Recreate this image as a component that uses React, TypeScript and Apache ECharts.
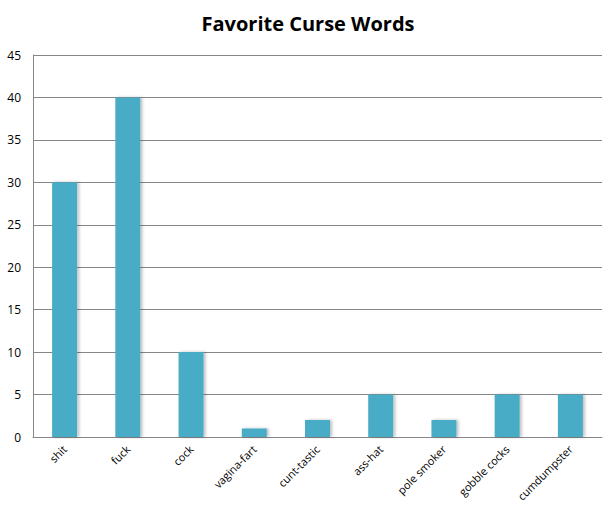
import { useEffect, useRef } from 'react';
import * as echarts from 'echarts';

const categories = [
  'shit',
  'fuck',
  'cock',
  'vagina-fart',
  'cunt-tastic',
  'ass-hat',
  'pole smoker',
  'gobble cocks',
  'cumdumpster',
];
const values = [30, 40, 10, 1, 2, 5, 2, 5, 5];

const FONT = '"Open Sans", "Liberation Sans", sans-serif';

export default function App() {
  const chartRef = useRef<HTMLDivElement>(null);

  useEffect(() => {
    document.body.style.margin = '0';
    if (!chartRef.current) return;
    const chart = echarts.init(chartRef.current, undefined, { renderer: 'svg' });

    const option: echarts.EChartsOption = {
      animation: false,
      backgroundColor: '#ffffff',
      title: {
        text: 'Favorite Curse Words',
        left: 'center',
        top: 8,
        textStyle: {
          fontFamily: FONT,
          fontSize: 20,
          fontWeight: 'bold',
          color: '#000000',
        },
      },
      grid: {
        left: 33,
        right: 14,
        top: 55,
        bottom: 82,
        containLabel: false,
      },
      xAxis: {
        type: 'category',
        data: categories,
        axisLine: { show: true, lineStyle: { color: '#868686', width: 1 } },
        axisTick: { show: false },
        axisLabel: {
          rotate: 45,
          margin: 10,
          interval: 0,
          color: '#000000',
          fontFamily: FONT,
          fontSize: 11,
        },
        splitLine: { show: false },
      },
      yAxis: {
        type: 'value',
        min: 0,
        max: 45,
        interval: 5,
        axisLine: { show: true, lineStyle: { color: '#868686', width: 1 } },
        axisTick: { show: false },
        axisLabel: {
          color: '#000000',
          fontFamily: FONT,
          fontSize: 12,
          margin: 12,
        },
        splitLine: { show: true, lineStyle: { color: '#868686', width: 1 } },
      },
      series: [
        {
          type: 'bar',
          data: values,
          barWidth: 25,
          itemStyle: {
            color: '#4aacc6',
            shadowColor: 'rgba(0, 0, 0, 0.25)',
            shadowBlur: 3,
            shadowOffsetX: 2,
            shadowOffsetY: 0,
          },
        },
      ],
    };

    chart.setOption(option);
    return () => {
      chart.dispose();
    };
  }, []);

  return <div ref={chartRef} style={{ width: 616, height: 519 }} />;
}
